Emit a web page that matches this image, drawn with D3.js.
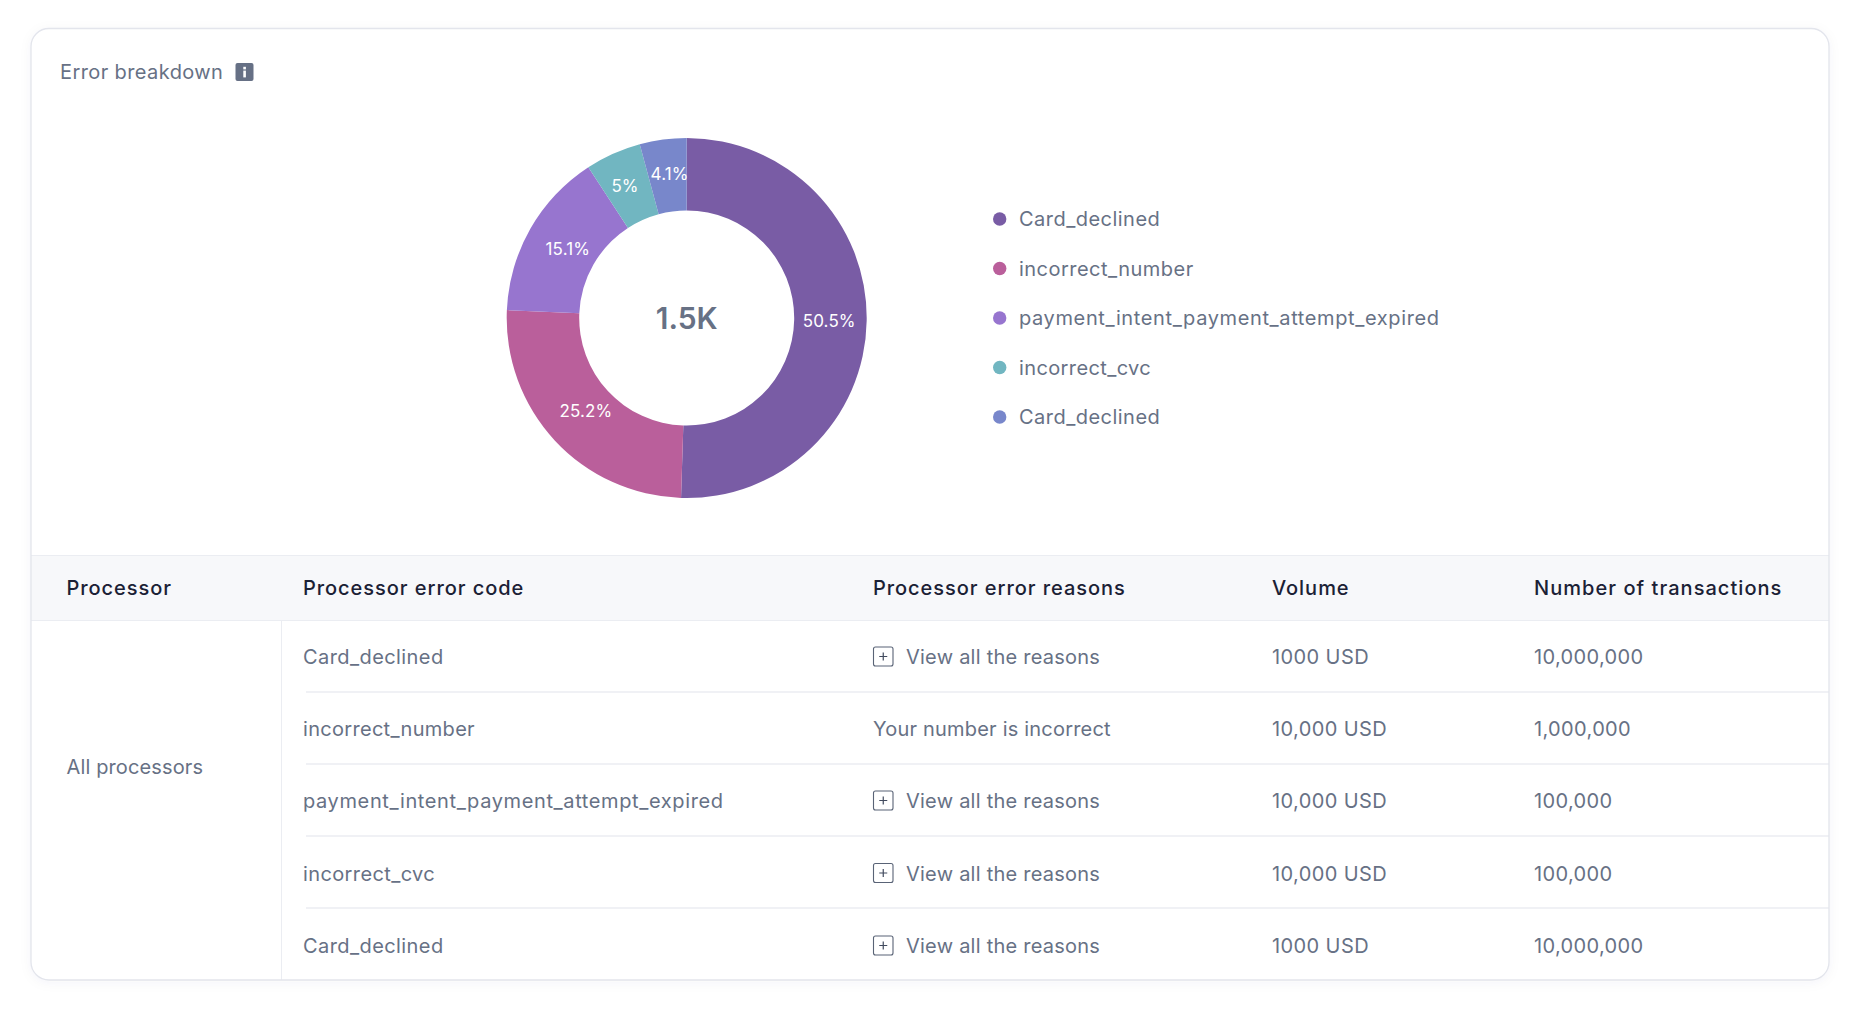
<!DOCTYPE html>
<html>
<head>
<meta charset="utf-8">
<title>Error breakdown</title>
<script src="https://cdn.jsdelivr.net/npm/d3@7/dist/d3.min.js"></script>
<style>
  html, body { margin: 0; padding: 0; background: #ffffff; }
  svg { display: block; }
  text { font-family: Inter, "Noto Sans", sans-serif; }
</style>
</head>
<body>
<svg id="chart" width="1860" height="1014"></svg>
<script>
// Error shares for the donut
const errorCodes = ["Card_declined", "incorrect_number", "payment_intent_payment_attempt_expired", "incorrect_cvc", "Card_declined"];
const errorShares = [50.5, 25.2, 15.1, 5, 4.1];
const sliceColors = ["#795CA5", "#BA5F9B", "#9775CF", "#71B6C1", "#7887CB"];
const centerLabel = "1.5K";

// Table contents
const tableHeaders = ["Processor", "Processor error code", "Processor error reasons", "Volume", "Number of transactions"];
const processorName = "All processors";
const rowReasons = ["View all the reasons", "Your number is incorrect", "View all the reasons", "View all the reasons", "View all the reasons"];
const rowHasExpander = [true, false, true, true, true];
const rowVolumes = ["1000 USD", "10,000 USD", "10,000 USD", "10,000 USD", "1000 USD"];
const rowTransactions = ["10,000,000", "1,000,000", "100,000", "100,000", "10,000,000"];

const svg = d3.select("#chart");
const textGrey = "#677185";
const lineGrey = "#EBEDF2";

// Card with a faint drop shadow
const defs = svg.append("defs");
const shadow = defs.append("filter").attr("id", "cardShadow")
  .attr("x", "-3%").attr("y", "-5%").attr("width", "106%").attr("height", "110%");
shadow.append("feDropShadow").attr("dx", 0).attr("dy", 2).attr("stdDeviation", 6)
  .attr("flood-color", "#3c4664").attr("flood-opacity", 0.05);
const card = { x: 31, y: 28.5, w: 1798, h: 951.5, r: 18 };
defs.append("clipPath").attr("id", "cardClip").append("rect")
  .attr("x", card.x).attr("y", card.y).attr("width", card.w).attr("height", card.h).attr("rx", card.r);

svg.append("rect").attr("x", card.x).attr("y", card.y).attr("width", card.w).attr("height", card.h)
  .attr("rx", card.r).attr("fill", "#fff").attr("filter", "url(#cardShadow)");

// Title and info badge
svg.append("text").attr("x", 60).attr("y", 79).attr("font-size", 20).attr("letter-spacing", "0.4px")
  .attr("fill", textGrey).text("Error breakdown");
const badge = svg.append("g").attr("transform", "translate(235.5,63)");
badge.append("rect").attr("width", 18).attr("height", 18).attr("rx", 2).attr("fill", "#667085");
badge.append("rect").attr("x", 7.8).attr("y", 3.8).attr("width", 2.6).attr("height", 2.6).attr("fill", "#fff");
badge.append("rect").attr("x", 7.8).attr("y", 7.6).attr("width", 2.6).attr("height", 6.8).attr("fill", "#fff");

// Donut: shares are percentages, so the circle is scaled to 100 and the
// rounding remainder (the labels add up to 99.9) goes to the last slice.
const center = [686.7, 318];
const pie = d3.pie().sort(null).value(d => d.value).endAngle(2 * Math.PI * d3.sum(errorShares) / 100);
const arc = d3.arc().innerRadius(107.5).outerRadius(180);
const labelRadii = [142.5, 136, 138, 146, 145];
const labelNudge = [[0, 1], [-1, 0], [1, -1], [-2, 1], [2, 0]];
const labelPoint = (d, i) => {
  const [x, y] = d3.arc().innerRadius(labelRadii[i]).outerRadius(labelRadii[i]).centroid(d);
  return [x + labelNudge[i][0], y + labelNudge[i][1]];
};
const sliceData = pie(errorShares.map((value, i) => ({ value, color: sliceColors[i] })));
sliceData[sliceData.length - 1].endAngle = 2 * Math.PI;
const donut = svg.append("g").attr("transform", `translate(${center})`);
donut.selectAll("path").data(sliceData).join("path")
  .attr("d", arc).attr("fill", d => d.data.color);
donut.selectAll("text.share").data(sliceData).join("text").attr("class", "share")
  .attr("transform", (d, i) => `translate(${labelPoint(d, i)})`)
  .attr("text-anchor", "middle").attr("dy", "0.36em")
  .attr("font-size", 17).attr("letter-spacing", "0.15px").attr("fill", "#fff")
  .text(d => d.data.value + "%");
donut.append("text").attr("text-anchor", "middle").attr("y", 0).attr("dy", "0.36em")
  .attr("font-size", 30).attr("font-weight", 600).attr("fill", textGrey).text(centerLabel);

// Legend
const legendSpacing = [0.47, 0.47, 0.62, 0.38, 0.47];
const legendY = d3.scalePoint().domain(d3.range(errorCodes.length)).range([219, 417]);
const legend = svg.selectAll("g.legend").data(errorCodes).join("g").attr("class", "legend")
  .attr("transform", (d, i) => `translate(999.7,${legendY(i)})`);
legend.append("circle").attr("r", 6.7).attr("fill", (d, i) => sliceColors[i]);
legend.append("text").attr("x", 19.3).attr("dy", "0.36em").attr("font-size", 20)
  .attr("letter-spacing", (d, i) => legendSpacing[i] + "px").attr("fill", textGrey).text(d => d);

// Table
const columnX = [66.5, 303, 873, 1272, 1534];
const headerSpacing = [0.95, 0.95, 0.95, 0.97, 1.05];
const codeSpacing = [0.42, 0.3, 0.62, 0.38, 0.42];
const table = svg.append("g").attr("clip-path", "url(#cardClip)");
table.append("rect").attr("x", card.x).attr("y", 555.5).attr("width", card.w).attr("height", 65).attr("fill", "#F7F8FA");
table.append("line").attr("x1", card.x).attr("x2", card.x + card.w).attr("y1", 555.5).attr("y2", 555.5).attr("stroke", lineGrey).attr("stroke-width", 1.2);
table.append("line").attr("x1", card.x).attr("x2", card.x + card.w).attr("y1", 620.5).attr("y2", 620.5).attr("stroke", lineGrey).attr("stroke-width", 1.2);
table.append("line").attr("x1", 281.5).attr("x2", 281.5).attr("y1", 620.5).attr("y2", card.y + card.h).attr("stroke", lineGrey);

table.selectAll("text.head").data(tableHeaders).join("text").attr("class", "head")
  .attr("x", (d, i) => columnX[i]).attr("y", 595)
  .attr("font-size", 20).attr("font-weight", 500).attr("letter-spacing", (d, i) => headerSpacing[i] + "px").attr("fill", "#1B2135")
  .text(d => d);

const rowLines = [692, 764, 836, 908];
table.selectAll("line.row").data(rowLines).join("line").attr("class", "row")
  .attr("x1", 306).attr("x2", card.x + card.w).attr("y1", d => d).attr("y2", d => d)
  .attr("stroke", lineGrey).attr("stroke-width", 1.3);

const rowY = [664, 736, 808, 880.5, 953];
const rows = table.selectAll("g.tr").data(errorCodes).join("g").attr("class", "tr");
rows.each(function (code, i) {
  const g = d3.select(this);
  const put = (x, s, spacing) => g.append("text").attr("x", x).attr("y", rowY[i]).attr("font-size", 20)
    .attr("letter-spacing", spacing + "px").attr("fill", textGrey).text(s);
  put(columnX[1], code, codeSpacing[i]);
  put(columnX[3], rowVolumes[i], 0.4);
  put(columnX[4], rowTransactions[i], 0.36);
  if (rowHasExpander[i]) {
    const icon = g.append("g").attr("transform", `translate(${columnX[2] + 0.5},${rowY[i] - 17})`);
    icon.append("rect").attr("width", 19.5).attr("height", 19).attr("rx", 2).attr("fill", "none").attr("stroke", "#596376").attr("stroke-width", 1.1);
    icon.append("path").attr("d", "M9.75 5.5V13.5M5.75 9.5H13.75").attr("stroke", "#414a5e").attr("stroke-width", 1.2);
    put(columnX[2] + 33, rowReasons[i], 0.24);
  } else {
    put(columnX[2], rowReasons[i], 0.2);
  }
});
table.append("text").attr("x", columnX[0]).attr("y", 774).attr("font-size", 20)
  .attr("letter-spacing", "0.13px").attr("fill", textGrey).text(processorName);

// Card outline on top of the table
svg.append("rect").attr("x", card.x).attr("y", card.y).attr("width", card.w).attr("height", card.h)
  .attr("rx", card.r).attr("fill", "none").attr("stroke", "#E3E5EC").attr("stroke-width", 1.3);
</script>
</body>
</html>
